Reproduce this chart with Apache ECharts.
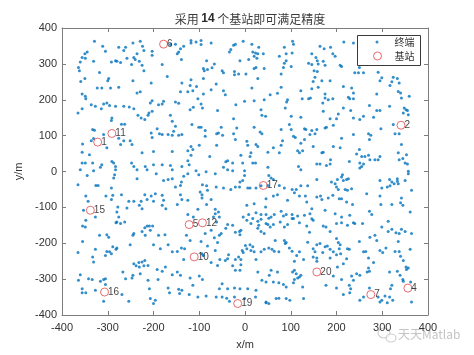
<!DOCTYPE html>
<html>
<head>
<meta charset="utf-8">
<script src="https://cdn.jsdelivr.net/npm/echarts@6/dist/echarts.min.js"></script>
<style>
  html, body { margin: 0; padding: 0; background: #fff; }
  #chart { width: 474px; height: 355px; }
</style>
</head>
<body>
<div id="chart"></div>
<script>
// Terminal positions (x, y in metres)
const terminals = [
  [-329,363],[-311,349],[-305,335],[-345,333],[-350,328],[-356,318],[-349,316],[-360,305],[-331,307],[-292,305],
  [-283,309],[-280,307],[-272,304],[-276,346],[-265,337],[-261,346],[-245,358],[-229,363],[-224,349],[-221,337],
  [-236,328],[-243,318],[-240,312],[-231,307],[-225,296],[-221,281],[-248,298],[-258,316],[-203,335],[-203,324],
  [-181,298],[-163,354],[-152,355],[-145,333],[-141,342],[-148,328],[-134,349],[-139,312],[-364,290],[-362,281],
  [-359,251],[-350,259],[-318,276],[-298,259],[-300,253],[-245,253],[-205,247],[-170,265],[-138,247],[-323,233],
  [-313,233],[-294,233],[-276,235],[-236,219],[-229,222],[-356,216],[-349,210],[-348,203],[-141,222],[-203,197],
  [-207,191],[-189,186],[-181,188],[-178,196],[-152,194],[-145,190],[-336,186],[-327,182],[-309,188],[-302,191],
  [-296,184],[-314,175],[-283,182],[-265,182],[-253,180],[-243,175],[-356,175],[-365,163],[-234,157],[-227,149],
  [-219,145],[-210,163],[-203,168],[-212,157],[-163,157],[-159,140],[-291,149],[-292,142],[-270,132],[-263,132],
  [-152,126],[-333,117],[-329,115],[-309,103],[-331,92],[-336,86],[-276,93],[-265,86],[-251,86],[-205,107],
  [-203,95],[-192,119],[-187,105],[-181,103],[-168,103],[-159,101],[-156,112],[-145,101],[-138,103],[-355,77],
  [-356,54],[-340,47],[-302,66],[-272,75],[-247,75],[-225,52],[-200,56],[-159,56],[-356,24],[-349,24],
  [-333,24],[-313,19],[-316,12],[-291,28],[-287,24],[-283,14],[-248,24],[-243,14],[-218,14],[-214,5],
  [-200,19],[-181,19],[-163,17],[-159,5],[-138,14],[-360,5],[-331,2],[-283,5],[-236,5],
  [-118,365],[-118,358],[-107,361],[-96,365],[-96,354],[-74,358],[-31,340],[-34,333],[-25,352],[-21,355],
  [-4,363],[15,355],[30,346],[17,333],[23,330],[28,328],[20,321],[40,328],[-11,309],[8,312],
  [26,316],[86,346],[104,363],[106,355],[90,328],[103,330],[75,321],[90,309],[86,302],[84,290],
  [101,293],[139,302],[-84,309],[-67,300],[-72,289],[-91,287],[-89,281],[-82,284],[-50,281],[-47,275],
  [-23,279],[-23,270],[-14,272],[2,272],[20,287],[24,290],[42,287],[79,272],[-118,256],[-91,259],
  [-63,244],[-120,240],[-106,237],[-114,225],[-125,222],[-74,228],[-47,225],[-43,214],[15,233],[28,259],
  [79,235],[122,225],[-91,216],[-103,203],[-96,188],[-93,177],[-113,179],[-120,172],[-60,170],[-20,186],
  [-1,196],[20,197],[42,200],[55,214],[71,218],[93,200],[91,194],[125,203],[139,203],[35,172],
  [37,157],[45,154],[88,177],[101,154],[122,151],[-25,147],[-116,131],[-101,123],[-96,123],[-87,114],
  [-87,98],[-62,105],[-58,107],[-52,123],[-49,101],[-18,121],[-25,105],[-21,89],[20,123],[33,110],
  [37,105],[4,84],[6,73],[24,75],[28,70],[79,117],[82,86],[97,131],[101,117],[106,98],
  [110,95],[130,119],[133,117],[130,89],[142,103],[-100,73],[-118,70],[-125,58],[-114,61],[-118,45],
  [-125,30],[-122,19],[-77,42],[-62,73],[-9,45],[11,42],[13,52],[62,66],[50,54],[79,73],
  [75,52],[115,58],[119,52],[126,58],[122,79],[-38,30],[-42,27],[-27,24],[-47,12],[-38,5],
  [-27,2],[-5,24],[-1,2],[17,24],[23,24],[50,12],[117,14],[122,5],[-107,2],[-85,-1],
  [164,349],[173,342],[187,346],[192,328],[197,321],[216,361],[237,358],[146,328],[155,318],[158,309],
  [160,300],[146,298],[171,307],[175,296],[208,296],[211,293],[259,275],[248,275],[250,290],[240,275],
  [151,281],[158,279],[153,263],[168,253],[149,251],[186,253],[160,235],[146,231],[215,237],[233,233],
  [237,219],[226,207],[229,203],[237,203],[291,277],[299,261],[295,253],[324,263],[333,259],[321,250],
  [337,247],[317,240],[288,216],[335,223],[340,219],[359,210],[342,205],[175,216],[175,205],[182,200],
  [192,203],[170,191],[143,205],[215,177],[231,170],[272,184],[288,170],[295,170],[316,182],[348,177],
  [352,172],[355,170],[357,158],[346,163],[171,168],[204,160],[200,147],[186,147],[178,123],[175,121],
  [157,117],[153,105],[146,114],[193,129],[251,145],[237,149],[259,154],[281,151],[297,119],[324,131],
  [337,105],[328,105],[237,103],[211,93],[270,105],[275,101],[272,89],[342,75],[149,70],[168,52],
  [171,54],[193,70],[208,66],[250,61],[244,49],[255,42],[262,42],[270,45],[228,28],[251,24],
  [259,21],[255,14],[251,10],[187,33],[186,21],[178,17],[164,21],[157,21],[273,33],[284,33],
  [291,33],[295,42],[337,33],[345,36],[350,24],[355,21],[357,1],[335,52],[353,47],
  [-345,-11],[-365,-37],[-285,-9],[-287,-18],[-236,-20],[-194,-6],[-159,-20],[-178,-25],[-168,-22],[-152,-43],
  [-141,-39],[-134,-13],[-139,-29],[-326,-39],[-321,-39],[-292,-46],[-348,-68],[-343,-83],[-353,-108],[-304,-68],
  [-289,-66],[-292,-78],[-270,-65],[-278,-99],[-280,-113],[-276,-127],[-280,-141],[-282,-143],[-272,-145],[-263,-141],
  [-258,-102],[-243,-83],[-254,-83],[-231,-94],[-227,-83],[-225,-104],[-214,-78],[-219,-65],[-205,-68],[-200,-83],
  [-196,-62],[-181,-66],[-178,-80],[-181,-94],[-173,-104],[-148,-92],[-138,-78],[-141,-65],[-355,-152],[-349,-155],
  [-327,-127],[-348,-136],[-318,-178],[-302,-176],[-355,-195],[-365,-226],[-327,-217],[-333,-238],[-331,-252],[-298,-183],
  [-302,-223],[-289,-210],[-280,-213],[-282,-217],[-292,-229],[-296,-224],[-305,-234],[-243,-173],[-245,-178],[-251,-204],
  [-225,-167],[-219,-157],[-214,-152],[-209,-152],[-202,-152],[-218,-178],[-207,-164],[-189,-178],[-175,-176],[-200,-204],
  [-185,-215],[-168,-204],[-148,-223],[-159,-224],[-139,-213],[-132,-215],[-134,-245],[-243,-257],[-232,-254],[-225,-252],
  [-219,-248],[-238,-263],[-231,-266],[-221,-263],[-212,-262],[-192,-273],[-181,-278],[-174,-266],[-148,-280],[-159,-288],
  [-141,-289],[-267,-280],[-261,-299],[-247,-297],[-245,-289],[-229,-285],[-190,-301],[-212,-303],[-360,-288],[-364,-303],
  [-342,-299],[-334,-301],[-316,-306],[-309,-301],[-305,-299],[-305,-315],[-356,-327],[-356,-338],[-348,-338],[-327,-331],
  [-309,-362],[-269,-343],[-254,-362],[-207,-354],[-196,-359],[-200,-368],[-168,-325],[-165,-338],[-145,-328],[-138,-331],
  [-143,-340],[-209,-327],
  [-125,-6],[-101,-9],[-65,-6],[-5,-25],[-11,-29],[-1,-11],[52,-11],[57,-18],[62,-22],[35,-40],
  [50,-39],[75,-39],[86,-46],[103,-50],[112,-50],[122,-40],[137,-40],[-93,-37],[-84,-40],[-82,-52],
  [-98,-57],[-63,-43],[-47,-46],[-31,-50],[-21,-43],[-12,-43],[6,-46],[11,-46],[24,-46],[93,-80],
  [108,-59],[119,-68],[132,-68],[135,-85],[62,-68],[71,-65],[46,-76],[45,-99],[35,-120],[46,-120],
  [52,-130],[57,-127],[64,-120],[79,-111],[84,-124],[90,-120],[103,-120],[106,-131],[115,-124],[130,-122],
  [142,-118],[-125,-80],[-94,-65],[-94,-74],[-74,-78],[-84,-92],[-65,-105],[-65,-118],[-69,-127],[-58,-113],
  [-56,-127],[-62,-141],[-38,-148],[-42,-158],[-27,-150],[-21,-169],[-12,-167],[-9,-164],[-11,-176],[8,-120],
  [17,-131],[24,-115],[20,-90],[4,-94],[-4,-127],[4,-136],[13,-145],[28,-139],[30,-150],[35,-133],
  [28,-158],[35,-167],[42,-173],[50,-148],[46,-145],[55,-155],[62,-148],[77,-141],[86,-155],[93,-148],
  [103,-131],[119,-143],[135,-152],[137,-197],[141,-169],[-125,-120],[-113,-127],[-103,-105],[-87,-173],[-74,-164],
  [-56,-178],[-52,-173],[-67,-185],[-60,-198],[-65,-220],[-82,-208],[-96,-195],[-120,-192],[-128,-178],[-94,-229],
  [-91,-234],[-74,-254],[-60,-262],[-55,-245],[-43,-248],[-38,-243],[-36,-232],[-21,-245],[-14,-238],[-9,-245],
  [-27,-263],[-21,-275],[-11,-275],[-9,-260],[-4,-226],[-6,-220],[4,-215],[13,-220],[17,-210],[11,-204],
  [1,-206],[20,-224],[24,-245],[35,-224],[42,-217],[52,-213],[59,-217],[64,-222],[66,-192],[74,-224],
  [86,-192],[88,-201],[90,-198],[97,-213],[103,-222],[113,-234],[119,-224],[128,-245],[108,-250],[104,-280],
  [108,-275],[112,-285],[115,-297],[119,-294],[122,-289],[108,-301],[106,-310],[126,-322],[57,-275],[71,-280],
  [53,-289],[28,-280],[37,-303],[46,-308],[62,-308],[74,-310],[84,-315],[90,-322],[24,-331],[6,-327],
  [-11,-327],[-23,-325],[-38,-327],[-56,-327],[-50,-313],[-93,-301],[-100,-291],[-120,-297],[-114,-317],[-122,-343],
  [-103,-350],[-85,-347],[-63,-350],[-50,-350],[-40,-353],[-34,-362],[-23,-350],[-1,-354],[23,-350],[46,-364],
  [68,-354],[74,-353],[90,-354],[98,-359],[52,-368],[46,-366],[128,-354],
  [157,-22],[189,-29],[197,-34],[202,-22],[211,-15],[215,-25],[222,-22],[226,-20],[213,-9],[200,-43],
  [204,-50],[219,-50],[224,-52],[233,-48],[295,-25],[316,-22],[321,-29],[326,-34],[333,-20],[333,-27],
  [335,-34],[350,-25],[357,-6],[299,-46],[311,-43],[317,-40],[364,-52],[157,-71],[165,-68],[168,-78],
  [182,-74],[192,-66],[206,-76],[211,-76],[222,-85],[235,-92],[266,-62],[295,-68],[297,-92],[321,-92],
  [342,-74],[340,-87],[345,-94],[146,-104],[175,-108],[197,-118],[211,-127],[229,-122],[272,-111],[277,-120],
  [313,-139],[361,-113],[146,-132],[149,-136],[171,-152],[177,-155],[186,-167],[200,-145],[211,-143],[224,-150],
  [237,-143],[240,-145],[257,-145],[273,-183],[284,-178],[299,-155],[313,-167],[321,-161],[330,-171],[337,-173],
  [342,-161],[350,-167],[364,-173],[335,-195],[328,-223],[337,-223],[340,-236],[361,-217],[346,-248],[353,-273],
  [357,-269],[352,-266],[157,-204],[164,-201],[175,-210],[180,-208],[186,-217],[193,-224],[200,-187],[204,-198],
  [208,-204],[206,-215],[209,-229],[224,-215],[228,-217],[250,-195],[259,-224],[264,-223],[270,-241],[281,-254],
  [288,-192],[295,-220],[301,-226],[308,-213],[153,-224],[149,-238],[157,-241],[157,-250],[170,-226],[186,-241],
  [200,-232],[215,-257],[222,-243],[270,-269],[272,-278],[244,-285],[251,-289],[233,-291],[237,-303],[211,-301],
  [202,-266],[193,-291],[177,-317],[200,-325],[228,-317],[231,-327],[215,-343],[229,-338],[251,-359],[259,-350],
  [267,-280],[272,-325],[291,-350],[299,-359],[306,-347],[316,-350],[318,-327],[321,-317],[323,-359],[311,-366],
  [316,-280],[333,-278],[339,-289],[345,-301],[346,-306],[362,-308],[364,-364],[295,-364],[149,-215]
];

// Base stations: id and position (m)
const stationId = [1, 2, 4, 5, 6, 7, 10, 11, 12, 15, 16, 17, 19, 20];
const stationX  = [-322, 341, 356, -122, -178, 275, -111, -291, -93, -338, -307, 40, -16, 157];
const stationY  = [82, 129, -325, -148, 355, -343, -238, 106, -143, -108, -336, -39, -368, -280];

const seriesNames = ['终端', '基站'];
const titleCount = 14;

const axisColor = '#7d7d7d';
const textColor = '#333';
const latinFont = '"Liberation Sans", Arial, sans-serif';
const cjkFont = '"Noto Sans CJK SC", sans-serif';
const stationColor = '#e4474b';
const terminalColor = '#0072BD';

const chart = echarts.init(document.getElementById('chart'), null, { renderer: 'canvas' });

const stationData = stationId.map((id, i) => ({ value: [stationX[i], stationY[i]], id: id }));

function boxAxis(extra) {
  return Object.assign({
    type: 'value', min: -400, max: 400, interval: 100,
    axisLine: { show: true, onZero: false, lineStyle: { color: axisColor, width: 1 } },
    axisTick: { show: true, inside: true, length: 4, lineStyle: { color: axisColor } },
    splitLine: { show: false }
  }, extra);
}

chart.setOption({
  backgroundColor: '#fff',
  animation: false,
  title: {
    text: '{a|采用 }{b|' + titleCount + '}{a| 个基站即可满足精度}',
    left: 245, top: 8, textAlign: 'center',
    textStyle: {
      fontWeight: 'normal',
      rich: {
        a: { fontFamily: cjkFont, fontSize: 12, fontWeight: 'normal', color: '#3a3a3a' },
        b: { fontFamily: latinFont, fontSize: 12, fontWeight: 'bold', color: '#2a2a2a' }
      }
    }
  },
  grid: { left: 62, right: 46, top: 28, bottom: 40, containLabel: false },
  xAxis: [
    boxAxis({
      position: 'bottom', name: 'x/m', nameLocation: 'middle', nameGap: 24,
      nameTextStyle: { fontFamily: latinFont, fontSize: 11, color: textColor },
      axisLabel: { margin: 7, fontFamily: latinFont, fontSize: 11, color: textColor }
    }),
    boxAxis({ position: 'top', axisLabel: { show: false } })
  ],
  yAxis: [
    boxAxis({
      position: 'left', name: 'y/m', nameLocation: 'middle', nameGap: 34,
      nameTextStyle: { fontFamily: latinFont, fontSize: 11, color: textColor },
      axisLabel: { margin: 5, fontFamily: latinFont, fontSize: 11, color: textColor }
    }),
    boxAxis({ position: 'right', axisLabel: { show: false } })
  ],
  legend: [
    {
      data: [{ name: seriesNames[0], icon: 'circle' }],
      left: 375.5, top: 37, padding: 0, itemWidth: 3, itemHeight: 3, z: 20,
      selectedMode: false,
      textStyle: { fontFamily: cjkFont, fontSize: 10, color: textColor, padding: [0, 0, 0, 11] }
    },
    {
      data: [{ name: seriesNames[1], icon: 'circle',
               itemStyle: { color: 'rgba(0,0,0,0)', borderColor: stationColor, borderWidth: 1 } }],
      left: 373, top: 51, padding: 0, itemWidth: 8, itemHeight: 8, z: 20,
      selectedMode: false,
      textStyle: { fontFamily: cjkFont, fontSize: 10, color: textColor, padding: [0, 0, 0, 8] }
    }
  ],
  graphic: [
    {
      type: 'rect', z: 15, silent: true,
      shape: { x: 357.5, y: 35.5, width: 63, height: 30 },
      style: { fill: '#fff', stroke: '#3a3a3a', lineWidth: 1 }
    },
    {
      type: 'group', z: 30, silent: true,
      children: [
        { type: 'ellipse', shape: { cx: 384, cy: 333, rx: 6, ry: 5 },
          style: { fill: 'none', stroke: '#cfcfcf', lineWidth: 1.2 } },
        { type: 'ellipse', shape: { cx: 391, cy: 338, rx: 5, ry: 4 },
          style: { fill: 'rgba(255,255,255,0.6)', stroke: '#cfcfcf', lineWidth: 1.2 } },
        { type: 'text', x: 398, y: 334,
          style: { text: '天天Matlab', fill: '#c4c4c4', font: '12px ' + cjkFont,
                   stroke: '#fff', lineWidth: 2, textVerticalAlign: 'middle' } }
      ]
    }
  ],
  series: [
    {
      name: seriesNames[0], type: 'scatter', data: terminals,
      symbol: 'circle', symbolSize: 3, z: 2,
      itemStyle: { color: terminalColor }
    },
    {
      name: seriesNames[1], type: 'scatter', data: stationData,
      symbol: 'circle', symbolSize: 8, z: 3,
      itemStyle: { color: 'rgba(0,0,0,0)', borderColor: stationColor, borderWidth: 1 },
      label: {
        show: true, position: 'right', distance: -1,
        formatter: p => String(p.data.id),
        fontFamily: latinFont, fontSize: 10, color: '#111'
      }
    }
  ]
});
</script>
</body>
</html>
